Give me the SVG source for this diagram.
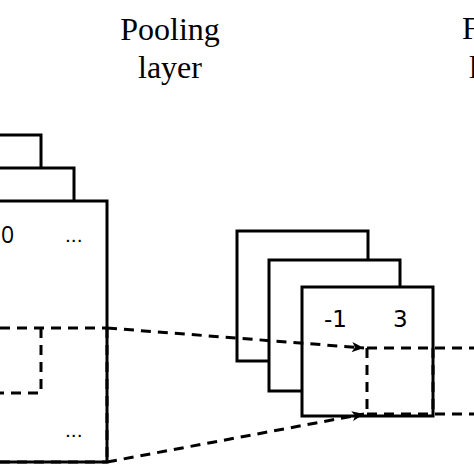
<svg xmlns="http://www.w3.org/2000/svg" width="474" height="474" viewBox="0 0 474 474">
<defs>
<style>
.map{fill:#fff;stroke:#000;stroke-width:3}
.dash{fill:none;stroke:#000;stroke-width:3;stroke-dasharray:10 7}
.title{font-family:"Liberation Serif",serif;font-size:32px;fill:#000;text-anchor:middle}
.num{font-family:"DejaVu Sans",sans-serif;font-size:23px;fill:#000}
.dots{font-family:"Liberation Sans",sans-serif;font-size:21px;fill:#000}
</style>
<marker id="arrow" viewBox="0 0 12 10" refX="12" refY="5" markerWidth="12" markerHeight="10" markerUnits="userSpaceOnUse" orient="auto">
<path d="M0,0 L12,5 L0,10 L3,5 Z" fill="#000"/>
</marker>
</defs>
<rect width="474" height="474" fill="#fff"/>
<g id="title-pooling">
<text class="title" x="170" y="40">Pooling</text>
<text class="title" x="170" y="78">layer</text>
</g>
<g id="title-next">
<text class="title" x="462" y="39" style="text-anchor:start">F</text>
<text class="title" x="469" y="78" style="text-anchor:start">l</text>
</g>
<g id="conv-stack">
<rect class="map" x="-220" y="135" width="261" height="261"/>
<rect class="map" x="-187" y="168" width="261" height="261"/>
<rect class="map" x="-154" y="201" width="261" height="261"/>
<text class="num" style="font-family:'Open Sans',sans-serif" x="1" y="243">0</text>
<text class="dots" x="65" y="242">...</text>
<text class="dots" x="65" y="437">...</text>
<path class="dash" d="M0,328 H107 M41,328 V393 H0 M107,328 V462 M0,462 H107"/>
</g>
<g id="pool-stack">
<rect class="map" x="237" y="231" width="131" height="130"/>
<rect class="map" x="269" y="260" width="131" height="131"/>
<rect class="map" x="302" y="287" width="131" height="129"/>
<text class="num" x="324" y="327">-1</text>
<text class="num" x="393" y="327">3</text>
<path class="dash" d="M367,348 H474 M367,348 V414 M433,348 V414 M367,414 H474"/>
</g>
<g id="connectors">
<line class="dash" x1="107" y1="328" x2="364" y2="348" marker-end="url(#arrow)"/>
<line class="dash" x1="107" y1="462" x2="364" y2="414" marker-end="url(#arrow)"/>
</g>
</svg>
